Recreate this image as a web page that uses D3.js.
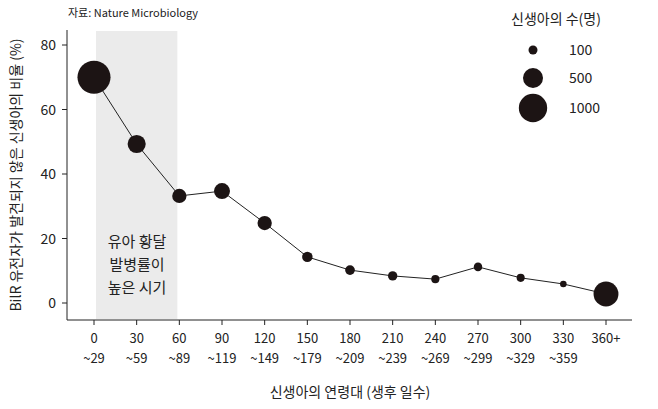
<!DOCTYPE html><html><head><meta charset="utf-8"><script src="https://d3js.org/d3.v7.min.js"></script>
<style>body{margin:0;background:#fff}text{font-family:"Noto Sans CJK KR","Noto Sans",sans-serif;fill:#222}</style></head><body><svg id="c" width="658" height="409"></svg><script>
const categories=["0","30","60","90","120","150","180","210","240","270","300","330","360+"];
const ranges=["~29","~59","~89","~119","~149","~179","~209","~239","~269","~299","~329","~359",""];
const rates=[70,49.3,33.2,34.7,24.8,14.3,10.2,8.4,7.4,11.2,7.8,5.9,2.8];
const counts=[1500,450,280,350,280,150,130,120,90,100,90,60,850];
const yTicks=[0,20,40,60,80];
const legendCounts=[100,500,1000];
const svg=d3.select("#c");
const x=d3.scalePoint().domain(categories).range([94,606]);
const y=d3.scaleLinear().domain([0,80]).range([303,45]);
const r=d3.scaleSqrt().domain([0,1000]).range([0,13.5]);
svg.append("rect").attr("x",x("0")+2).attr("width",x("60")-x("0")-4).attr("y",31).attr("height",288).attr("fill","#ebebeb");
svg.append("line").attr("x1",67).attr("x2",67).attr("y1",30).attr("y2",320).attr("stroke","#222");
svg.append("line").attr("x1",67).attr("x2",632).attr("y1",320).attr("y2",320).attr("stroke","#222");
yTicks.forEach(t=>{svg.append("line").attr("x1",62).attr("x2",67).attr("y1",y(t)).attr("y2",y(t)).attr("stroke","#222");
svg.append("text").attr("x",56).attr("y",y(t)+5).attr("text-anchor","end").attr("font-size",14).text(t);});
categories.forEach((c,i)=>{const g=svg.append("g");
g.append("line").attr("x1",x(c)).attr("x2",x(c)).attr("y1",320).attr("y2",325).attr("stroke","#222");
g.append("text").attr("x",x(c)).attr("y",343).attr("text-anchor","middle").attr("font-size",13).text(c);
g.append("text").attr("x",x(c)).attr("y",363).attr("text-anchor","middle").attr("font-size",13).text(ranges[i]);});
svg.append("path").datum(rates).attr("fill","none").attr("stroke","#222").attr("stroke-width",1)
 .attr("d",d3.line().x((d,i)=>x(categories[i])).y(d=>y(d)));
svg.selectAll("circle.p").data(rates).join("circle").attr("cx",(d,i)=>x(categories[i])).attr("cy",d=>y(d)).attr("r",(d,i)=>r(counts[i])).attr("fill","#1c1414");
["유아 황달","발병률이","높은 시기"].forEach((t,i)=>svg.append("text").attr("x",137).attr("y",247+i*23).attr("text-anchor","middle").attr("font-size",15).text(t));
svg.append("text").attr("x",68).attr("y",17).attr("font-size",11).text("자료: Nature Microbiology");
svg.append("text").attr("x",556).attr("y",24).attr("text-anchor","middle").attr("font-size",14).text("신생아의 수(명)");
legendCounts.forEach((v,i)=>{const yy=[50,78,108][i];
svg.append("circle").attr("cx",533).attr("cy",yy).attr("r",r(v)*1.05).attr("fill","#1c1414");
svg.append("text").attr("x",569).attr("y",yy+5).attr("font-size",14).text(v);});
svg.append("text").attr("x",350).attr("y",397).attr("text-anchor","middle").attr("font-size",14).text("신생아의 연령대 (생후 일수)");
svg.append("text").attr("transform","translate(21,175) rotate(-90)").attr("text-anchor","middle").attr("font-size",14).text("BilR 유전자가 발견되지 않은 신생아의 비율 (%)");
</script></body></html>
